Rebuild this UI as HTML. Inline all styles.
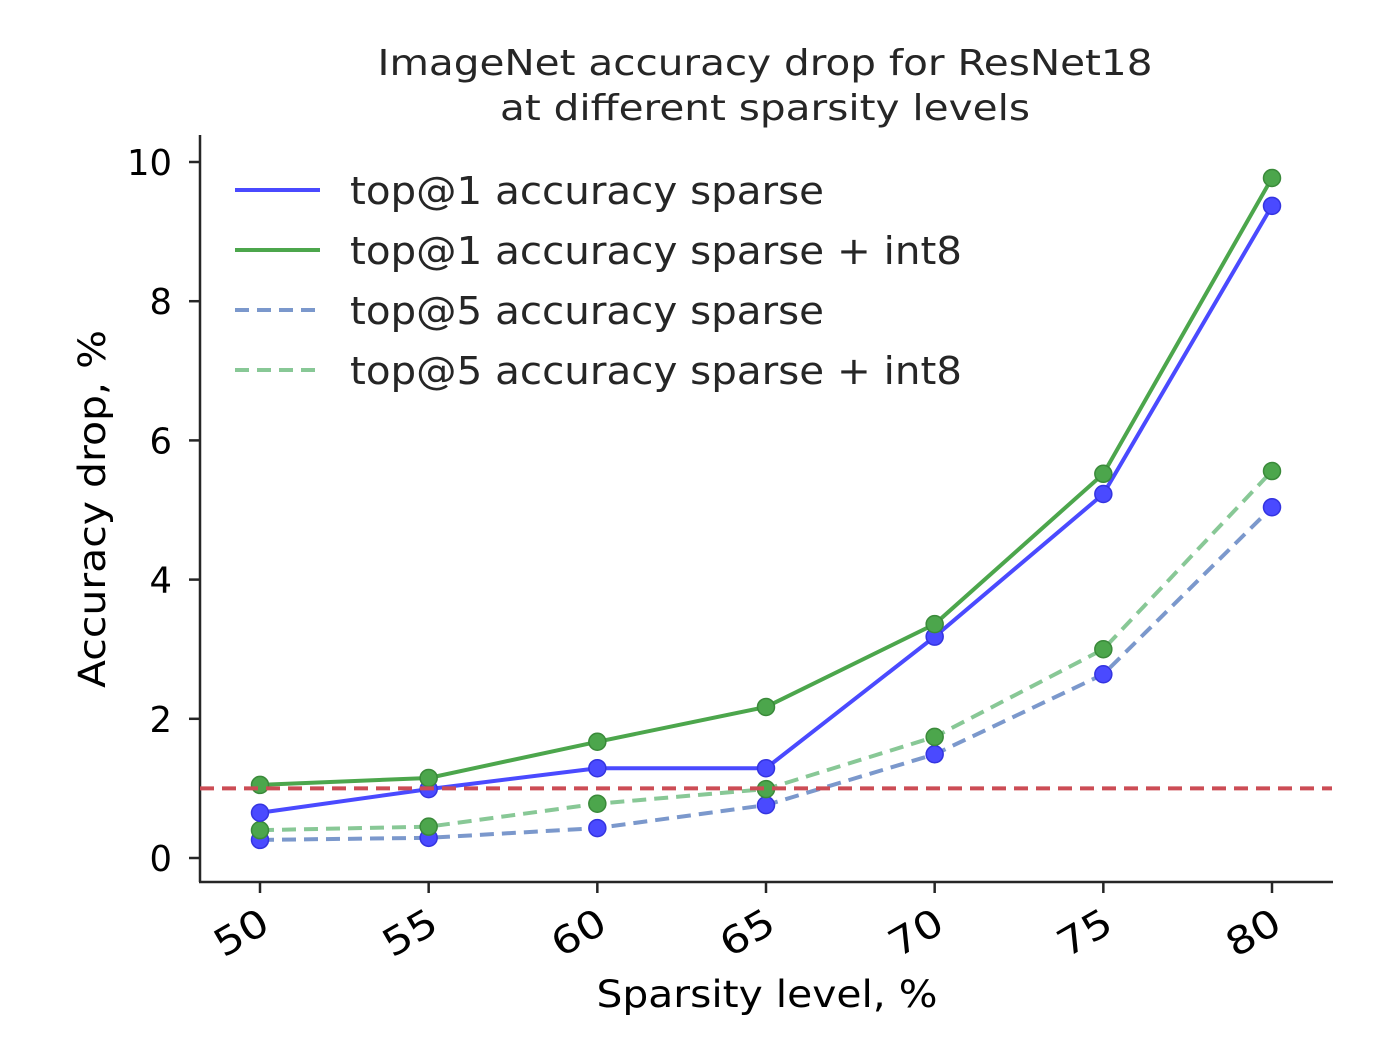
<!DOCTYPE html>
<html><head><meta charset="utf-8"><style>
html,body{margin:0;padding:0;background:#fff;}
svg{display:block;font-family:"DejaVu Sans","Liberation Sans",sans-serif;}
</style></head><body>
<svg id="chart" width="1378" height="1062">
<g id="axes"></g><g id="marks"></g><g id="legend"></g>
</svg>
<script>
const categories = [50, 55, 60, 65, 70, 75, 80];
const top1Sparse = [0.65, 0.99, 1.29, 1.29, 3.18, 5.23, 9.37];
const top1Int8 = [1.05, 1.15, 1.67, 2.17, 3.36, 5.52, 9.77];
const top5Sparse = [0.26, 0.29, 0.43, 0.76, 1.49, 2.64, 5.04];
const top5Int8 = [0.40, 0.45, 0.78, 0.99, 1.74, 3.00, 5.56];
const yTicks = [0, 2, 4, 6, 8, 10];
const thresholdValue = 1;

const NS = "http://www.w3.org/2000/svg";
const X = v => 260 + (v - 50) * (1272 - 260) / 30;
const Y = v => 858 - v * (858 - 162) / 10;
function mk(tag, attrs, parent, text) {
  const e = document.createElementNS(NS, tag);
  for (const k in attrs) e.setAttribute(k, attrs[k]);
  if (text !== undefined) e.textContent = text;
  parent.appendChild(e);
  return e;
}
const axes = document.getElementById('axes');
const marks = document.getElementById('marks');
const legend = document.getElementById('legend');

let t = mk('text', {x: 765, y: 75, 'font-size': 36, 'text-anchor': 'middle', fill: '#262626', textLength: 775, lengthAdjust: 'spacingAndGlyphs'}, axes, 'ImageNet accuracy drop for ResNet18');


t = mk('text', {x: 765, y: 120, 'font-size': 36, 'text-anchor': 'middle', fill: '#262626', textLength: 530, lengthAdjust: 'spacingAndGlyphs'}, axes, 'at different sparsity levels');



let l = mk('line', {x1: 200, y1: 135, x2: 200, y2: 882, stroke: '#262626', 'stroke-width': 2.5}, axes);


l = mk('line', {x1: 199, y1: 882, x2: 1333, y2: 882, stroke: '#262626', 'stroke-width': 2.5}, axes);



yTicks.forEach(v => {
  const tk = mk('line', {x1: 189, y1: Y(v), x2: 200, y2: Y(v), stroke: '#262626', 'stroke-width': 2.5}, axes);
  
  
  const s = String(v);
  const tx = mk('text', {x: 172, y: Y(v) + 13, 'font-size': 36, 'text-anchor': 'end', fill: '#000', textLength: 22.5 * s.length, lengthAdjust: 'spacingAndGlyphs'}, axes, s);
  
  
});
categories.forEach(v => {
  const tk = mk('line', {x1: X(v), y1: 882, x2: X(v), y2: 893, stroke: '#262626', 'stroke-width': 2.5}, axes);
  
  
  const ax = X(v) + 12, ay = 930;
  const tx = mk('text', {x: ax, y: ay, 'font-size': 38, 'text-anchor': 'end', fill: '#000', textLength: 56, lengthAdjust: 'spacingAndGlyphs', transform: `rotate(-30 ${ax} ${ay})`}, axes, String(v));
  
  
});
t = mk('text', {x: 767, y: 1007, 'font-size': 37, 'text-anchor': 'middle', fill: '#000', textLength: 341, lengthAdjust: 'spacingAndGlyphs'}, axes, 'Sparsity level, %');


t = mk('text', {x: 105, y: 509, 'font-size': 37, 'text-anchor': 'middle', fill: '#000', textLength: 358, lengthAdjust: 'spacingAndGlyphs', transform: 'rotate(-90 105 509)'}, axes, 'Accuracy drop, %');



const series = [
  {name: 'top5-sparse', vals: top5Sparse, color: '#7b98cc', mcolor: '#4a4aff', dash: '14,8'},
  {name: 'top5-int8', vals: top5Int8, color: '#88c896', mcolor: '#4ca64c', dash: '14,8'},
  {name: 'top1-sparse', vals: top1Sparse, color: '#4a4aff', mcolor: '#4a4aff', dash: null},
  {name: 'top1-int8', vals: top1Int8, color: '#4ca64c', mcolor: '#4ca64c', dash: null},
];
series.forEach(s => {
  const pts = s.vals.map((v, i) => X(categories[i]) + ',' + Y(v)).join(' ');
  const a = {points: pts, fill: 'none', stroke: s.color, 'stroke-width': 4};
  if (s.dash) a['stroke-dasharray'] = s.dash;
  const pl = mk('polyline', a, marks);
  
  
  s.vals.forEach((v, i) => {
    const c = mk('circle', {cx: X(categories[i]), cy: Y(v), r: 8.5, fill: s.mcolor, stroke: s.mcolor === '#4a4aff' ? '#3434e0' : '#3a8a3a', 'stroke-width': 1.5}, marks);
    
    
  });
});
l = mk('line', {x1: 200, y1: Y(thresholdValue), x2: 1332, y2: Y(thresholdValue), stroke: '#cc4c55', 'stroke-width': 4, 'stroke-dasharray': '14,8'}, marks);



const leg = [
  ['top@1 accuracy sparse', '#4a4aff', null, 474],
  ['top@1 accuracy sparse + int8', '#4ca64c', null, 612],
  ['top@5 accuracy sparse', '#7b98cc', '14,8', 474],
  ['top@5 accuracy sparse + int8', '#88c896', '14,8', 612],
];
leg.forEach((e, i) => {
  const y = 190 + i * 60;
  const a = {x1: 235, y1: y, x2: 320, y2: y, stroke: e[1], 'stroke-width': 4};
  if (e[2]) a['stroke-dasharray'] = e[2];
  const ln = mk('line', a, legend);
  
  
  const tx = mk('text', {x: 350, y: y + 14, 'font-size': 38, fill: '#262626', textLength: e[3], lengthAdjust: 'spacingAndGlyphs'}, legend, e[0]);
  
  
});
</script>
</body></html>
